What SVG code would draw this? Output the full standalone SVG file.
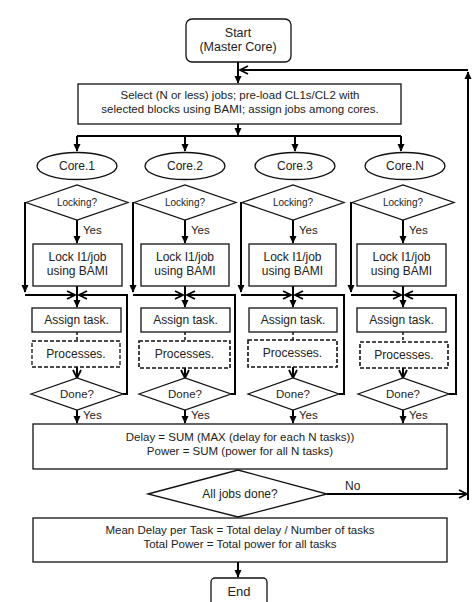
<svg xmlns="http://www.w3.org/2000/svg" width="474" height="602" viewBox="0 0 474 602">
<defs>
<marker id="arr" viewBox="0 0 10 10" refX="9" refY="5" markerWidth="8" markerHeight="8" orient="auto" markerUnits="userSpaceOnUse">
<path d="M0,0.5 L10,5 L0,9.5 z" fill="#000"/>
</marker>
<marker id="open" viewBox="0 0 10 10" refX="9" refY="5" markerWidth="10" markerHeight="10" orient="auto" markerUnits="userSpaceOnUse">
<path d="M1,1 L9,5 L1,9" fill="none" stroke="#000" stroke-width="1.8"/>
</marker>
<style>
.box{fill:#fff;stroke:#111;stroke-width:1.3}
.dash{fill:#fff;stroke:#111;stroke-width:1.6;stroke-dasharray:4 2}
.ln{fill:none;stroke:#000;stroke-width:2}
.lnt{fill:none;stroke:#000;stroke-width:1.4}
.a{marker-end:url(#arr)}
.o{marker-end:url(#open)}
text{font-family:"Liberation Sans",Arial,sans-serif;fill:#222;text-anchor:middle;font-size:11.5px}
.s{font-size:10px}
.l{text-anchor:start}
</style>
</defs>
<rect width="474" height="602" fill="#fff"/>

<g id="connectors">
<path class="ln a" d="M238,62 V83"/>
<path class="ln a" d="M468,500 V72"/>
<path class="ln o" d="M468,70 H240"/>
<path class="ln a" d="M238,124 V135"/>
<path class="ln" d="M77,136 H401"/>
<path class="ln a" d="M77,136 V151"/>
<path class="ln a" d="M185,136 V151"/>
<path class="ln a" d="M295,136 V151"/>
<path class="ln a" d="M401,136 V151"/>
<!-- column 1 -->
<path class="ln a" d="M77,220 V243"/>
<path class="ln a" d="M25,202 V292"/>
<path class="ln o" d="M25,295 H75"/>
<path class="ln o" d="M123,394 H127 V295 H79"/>
<path class="ln a" d="M77,286 V307"/>
<path class="lnt" d="M77,332 V341" stroke-dasharray="3 2"/>
<path class="ln o" d="M77,367 V378"/>
<path class="ln a" d="M77,410 V423"/>
<!-- column 2 -->
<path class="ln a" d="M185,220 V243"/>
<path class="ln a" d="M133,202 V292"/>
<path class="ln o" d="M133,295 H183"/>
<path class="ln o" d="M231,394 H235 V295 H187"/>
<path class="ln a" d="M185,286 V307"/>
<path class="lnt" d="M185,332 V341" stroke-dasharray="3 2"/>
<path class="ln o" d="M185,368 V378"/>
<path class="ln a" d="M185,410 V423"/>
<!-- column 3 -->
<path class="ln a" d="M293,220 V243"/>
<path class="ln a" d="M241,202 V292"/>
<path class="ln o" d="M241,295 H291"/>
<path class="ln o" d="M339,394 H344 V295 H295"/>
<path class="ln a" d="M293,286 V307"/>
<path class="lnt" d="M293,332 V341" stroke-dasharray="3 2"/>
<path class="ln o" d="M293,367 V378"/>
<path class="ln a" d="M293,410 V423"/>
<!-- column N -->
<path class="ln a" d="M403,220 V243"/>
<path class="ln a" d="M351,202 V292"/>
<path class="ln o" d="M351,295 H401"/>
<path class="ln o" d="M449,394 H456 V295 H405"/>
<path class="ln a" d="M403,286 V307"/>
<path class="lnt" d="M403,332 V342" stroke-dasharray="3 2"/>
<path class="ln o" d="M403,368 V378"/>
<path class="ln a" d="M403,410 V423"/>
<!-- bottom -->
<path class="ln o" d="M327,494 H467"/>
<path class="ln a" d="M238,562 V577"/>
<text x="77" y="234" class="l" dx="6">Yes</text>
<text x="185" y="234" class="l" dx="6">Yes</text>
<text x="293" y="234" class="l" dx="6">Yes</text>
<text x="403" y="234" class="l" dx="6">Yes</text>
<text x="77" y="419" class="l" dx="6">Yes</text>
<text x="185" y="419" class="l" dx="6">Yes</text>
<text x="293" y="419" class="l" dx="6">Yes</text>
<text x="403" y="419" class="l" dx="6">Yes</text>
<text x="345" y="490" class="l" style="font-size:12px">No</text>
</g>

<g id="start">
<rect class="box" x="186" y="19" width="105" height="43" rx="6"/>
<text x="238" y="37" style="font-size:12.5px">Start</text>
<text x="238" y="51" style="font-size:12.5px">(Master Core)</text>
</g>

<g id="select">
<rect class="box" x="78" y="84" width="323" height="40"/>
<text x="240" y="99">Select (N or less) jobs; pre-load CL1s/CL2 with</text>
<text x="240" y="113">selected blocks using BAMI; assign jobs among cores.</text>
</g>

<g id="core1">
<ellipse class="box" cx="77" cy="166" rx="40" ry="13.5"/>
<text x="77" y="170" style="font-size:12px">Core.1</text>
</g>
<g id="core2">
<ellipse class="box" cx="185" cy="166" rx="40" ry="13.5"/>
<text x="185" y="170" style="font-size:12px">Core.2</text>
</g>
<g id="core3">
<ellipse class="box" cx="295" cy="166" rx="40" ry="13.5"/>
<text x="295" y="170" style="font-size:12px">Core.3</text>
</g>
<g id="coreN">
<ellipse class="box" cx="405" cy="166" rx="40" ry="13.5"/>
<text x="405" y="170" style="font-size:12px">Core.N</text>
</g>

<g id="locking1">
<polygon class="box" points="26,202.5 77,185 128,202.5 77,220"/>
<text x="77" y="206" class="s">Locking?</text>
</g>
<g id="locking2">
<polygon class="box" points="134,202.5 185,185 236,202.5 185,220"/>
<text x="185" y="206" class="s">Locking?</text>
</g>
<g id="locking3">
<polygon class="box" points="242,202.5 293,185 344,202.5 293,220"/>
<text x="293" y="206" class="s">Locking?</text>
</g>
<g id="lockingN">
<polygon class="box" points="352,202.5 403,185 454,202.5 403,220"/>
<text x="403" y="206" class="s">Locking?</text>
</g>

<g id="lock1">
<rect class="box" x="33" y="244" width="89" height="42"/>
<text x="77.5" y="261" style="font-size:12px">Lock I1/job</text>
<text x="77.5" y="275" style="font-size:12px">using BAMI</text>
</g>
<g id="lock2">
<rect class="box" x="141" y="244" width="88" height="42"/>
<text x="185" y="261" style="font-size:12px">Lock I1/job</text>
<text x="185" y="275" style="font-size:12px">using BAMI</text>
</g>
<g id="lock3">
<rect class="box" x="249" y="244" width="87" height="42"/>
<text x="292.5" y="261" style="font-size:12px">Lock I1/job</text>
<text x="292.5" y="275" style="font-size:12px">using BAMI</text>
</g>
<g id="lockN">
<rect class="box" x="357" y="244" width="89" height="42"/>
<text x="401.5" y="261" style="font-size:12px">Lock I1/job</text>
<text x="401.5" y="275" style="font-size:12px">using BAMI</text>
</g>

<g id="assign1">
<rect class="box" x="32" y="308" width="89" height="24"/>
<text x="76.5" y="324" style="font-size:12px">Assign task.</text>
</g>
<g id="assign2">
<rect class="box" x="141" y="308" width="89" height="24"/>
<text x="185.5" y="324" style="font-size:12px">Assign task.</text>
</g>
<g id="assign3">
<rect class="box" x="249" y="308" width="88" height="24"/>
<text x="293" y="324" style="font-size:12px">Assign task.</text>
</g>
<g id="assignN">
<rect class="box" x="357" y="308" width="89" height="24"/>
<text x="401.5" y="324" style="font-size:12px">Assign task.</text>
</g>

<g id="processes1">
<rect class="dash" x="32" y="341" width="88" height="26" style="stroke-width:1.3"/>
<text x="76" y="358" style="font-size:12px">Processes.</text>
</g>
<g id="processes2">
<rect class="dash" x="139" y="341" width="91" height="27"/>
<text x="184.5" y="358" style="font-size:12px">Processes.</text>
</g>
<g id="processes3">
<rect class="dash" x="248" y="340" width="89" height="27"/>
<text x="292.5" y="357" style="font-size:12px">Processes.</text>
</g>
<g id="processesN">
<rect class="dash" x="360" y="342" width="88" height="26"/>
<text x="404" y="359" style="font-size:12px">Processes.</text>
</g>

<g id="done1">
<polygon class="box" points="31,394 77,378 123,394 77,410"/>
<text x="77" y="398">Done?</text>
</g>
<g id="done2">
<polygon class="box" points="139,394 185,378 231,394 185,410"/>
<text x="185" y="398">Done?</text>
</g>
<g id="done3">
<polygon class="box" points="248,394 293,378 339,394 293,410"/>
<text x="293" y="398">Done?</text>
</g>
<g id="doneN">
<polygon class="box" points="358,394 403,378 449,394 403,410"/>
<text x="403" y="398">Done?</text>
</g>

<g id="sum">
<rect class="box" x="33" y="424" width="414" height="45"/>
<text x="240" y="441">Delay = SUM (MAX (delay for each N tasks))</text>
<text x="240" y="455">Power = SUM (power for all N tasks)</text>
</g>

<g id="alljobs">
<polygon class="box" points="148,494 238,470 327,494 238,517"/>
<text x="240" y="498" style="font-size:12px">All jobs done?</text>
</g>

<g id="mean">
<rect class="box" x="33" y="518" width="414" height="44"/>
<text x="240" y="534">Mean Delay per Task = Total delay / Number of tasks</text>
<text x="240" y="548">Total Power = Total power for all tasks</text>
</g>

<g id="end">
<rect class="box" x="211" y="578" width="56" height="30" rx="4"/>
<text x="239" y="596" style="font-size:13px">End</text>
</g>
</svg>
